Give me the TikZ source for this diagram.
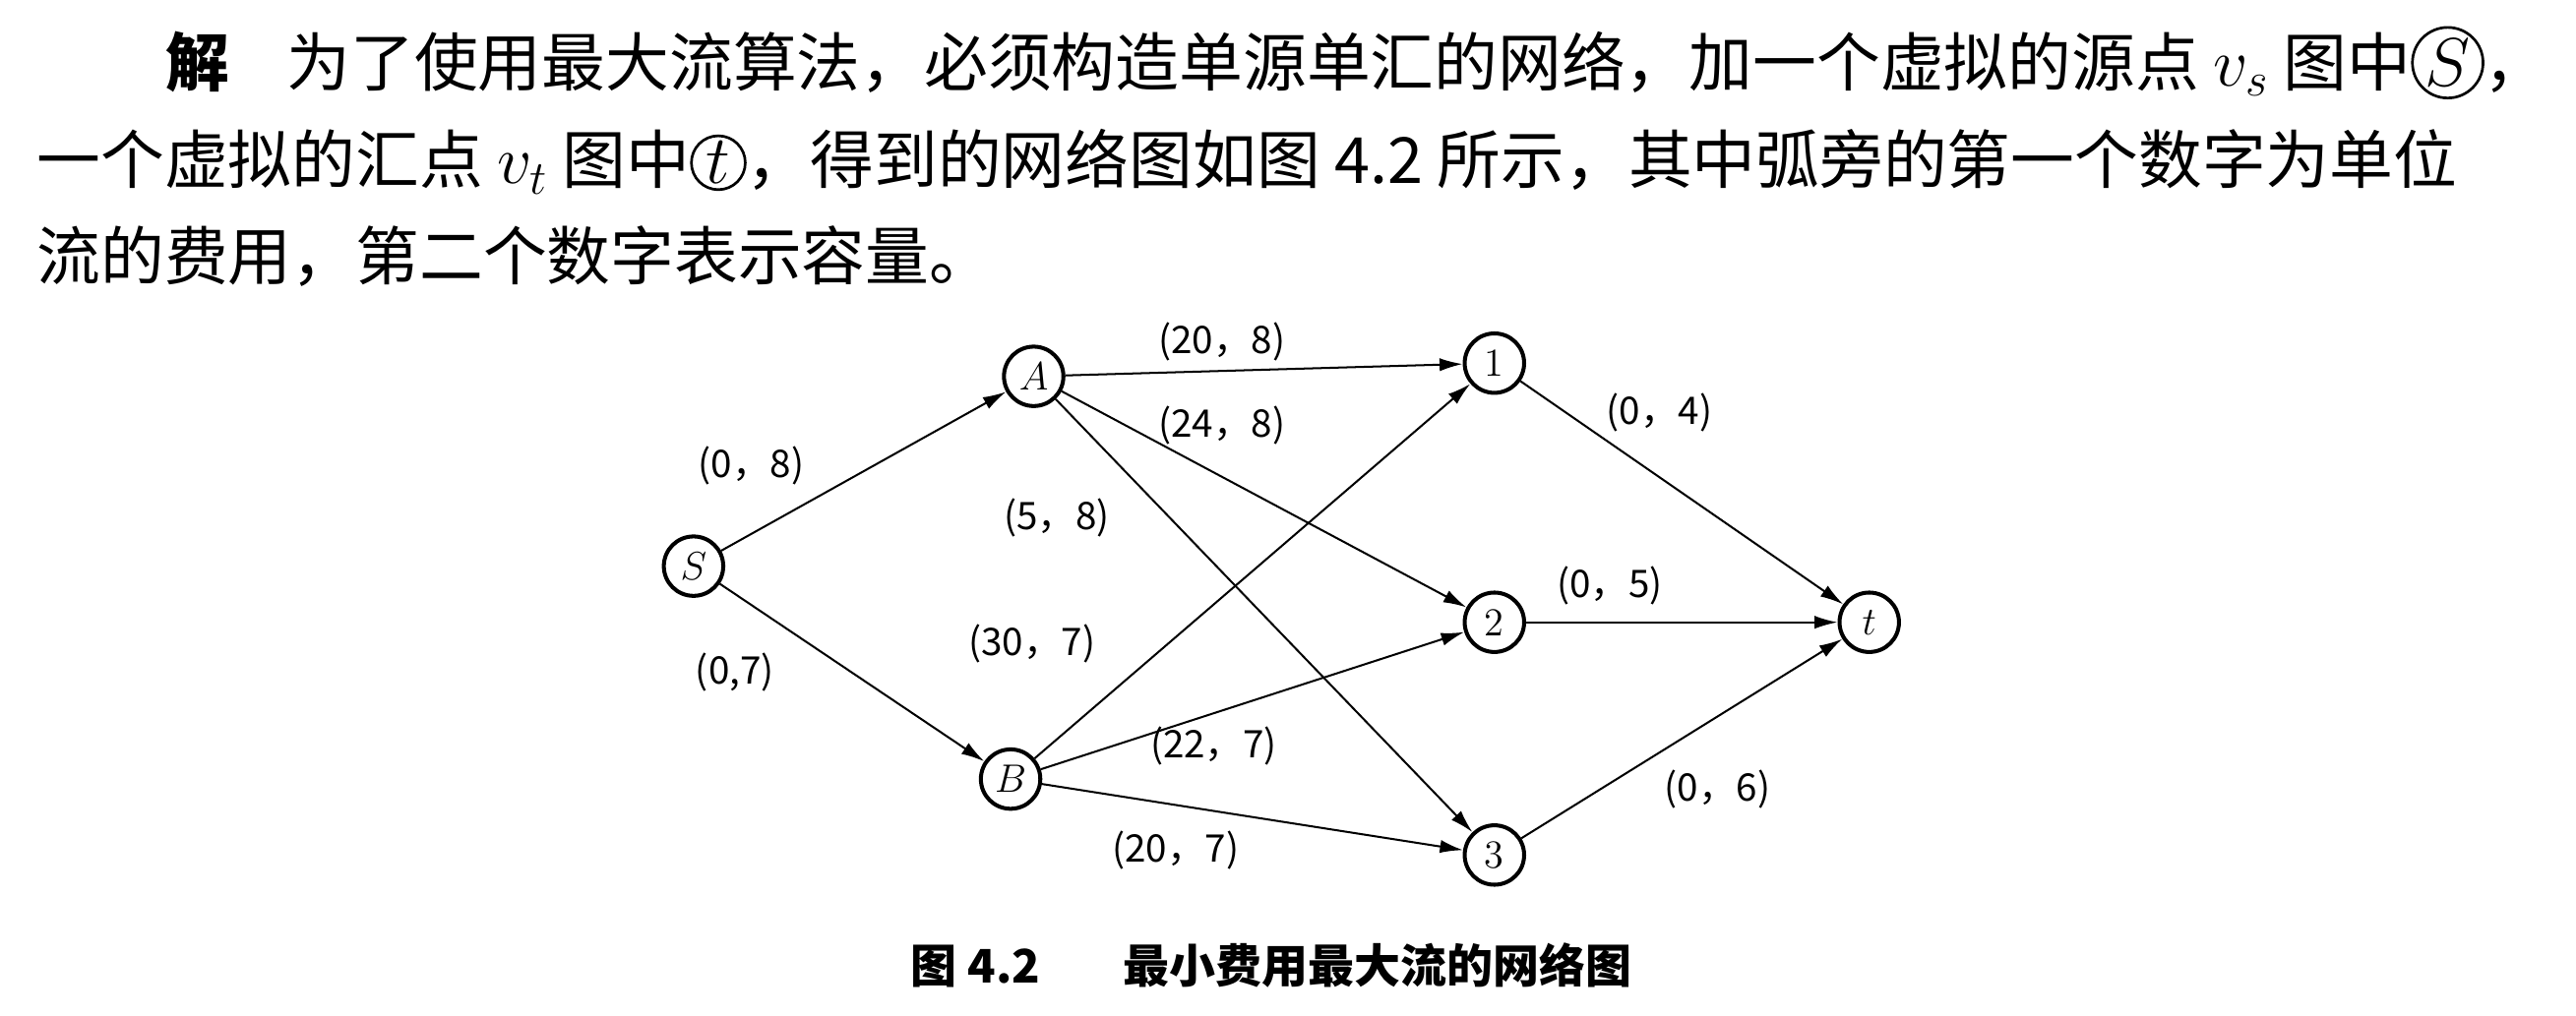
\documentclass[tikz,border=0pt]{standalone}
\usepackage{fontspec}
\newfontfamily\cjk{Noto Sans CJK SC}
\usetikzlibrary{positioning,arrows.meta}
\newcommand{\circletter}[1]{\tikz[baseline=(c.base)]\node[draw,circle,inner sep=0.6pt,line width=0.8pt] (c) {$#1$};}
\tikzset{
  vtx/.style={draw,circle,line width=1.2pt,minimum size=18pt,inner sep=0pt,font=\large},
  arc/.style={-{Latex[length=7pt,width=4pt]},line width=0.6pt},
  lbl/.style={font=\cjk\fontsize{11.5}{14}\selectfont},
  txt/.style={anchor=west,inner sep=0pt,font=\cjk\fontsize{19.3}{22}\selectfont}
}
\begin{document}
\begin{tikzpicture}[x=0.5pt,y=-0.5pt]
\useasboundingbox (0,0) rectangle (1560,615);

% text
\node[txt] (l1) at (100,38) {\textbf{解}\hspace{0.9em}为了使用最大流算法，必须构造单源单汇的网络，加一个虚拟的源点 $v_s$ 图中\circletter{S}，};
\node[txt] (l2) at (22,98) {一个虚拟的汇点 $v_t$ 图中\circletter{t}，得到的网络图如图 4.2 所示，其中弧旁的第一个数字为单位};
\node[txt] (l3) at (22,155) {流的费用，第二个数字表示容量。};

% vertices
\node[vtx] (S) at (420,343) {$S$};
\node[vtx] (A) at (626,228) {$A$};
\node[vtx] (B) at (612,472) {$B$};
\node[vtx] (n1) at (905,220) {1};
\node[vtx] (n2) at (905,377) {2};
\node[vtx] (n3) at (905,518) {3};
\node[vtx] (t) at (1132,377) {$t$};

% arcs
\draw[arc] (S) -- (A);
\draw[arc] (S) -- (B);
\draw[arc] (A) -- (n1);
\draw[arc] (A) -- (n2);
\draw[arc] (A) -- (n3);
\draw[arc] (B) -- (n1);
\draw[arc] (B) -- (n2);
\draw[arc] (B) -- (n3);
\draw[arc] (n1) -- (t);
\draw[arc] (n2) -- (t);
\draw[arc] (n3) -- (t);

% labels
\node[lbl] (c1) at (740,207) {(20，8)};
\node[lbl] (c2) at (740,258) {(24，8)};
\node[lbl] (c3) at (640,314) {(5，8)};
\node[lbl] (c4) at (455,282) {(0，8)};
\node[lbl] (c5) at (445,407) {(0,7)};
\node[lbl] (c6) at (625,390) {(30，7)};
\node[lbl] (c7) at (735,452) {(22，7)};
\node[lbl] (c8) at (712,515) {(20，7)};
\node[lbl] (c9) at (1005,250) {(0，4)};
\node[lbl] (c10) at (975,355) {(0，5)};
\node[lbl] (c11) at (1040,478) {(0，6)};

% caption
\node[font=\cjk\bfseries\fontsize{14}{16}\selectfont] (cap) at (770,585) {图 4.2\hspace{1.8em}最小费用最大流的网络图};
\end{tikzpicture}
\end{document}
